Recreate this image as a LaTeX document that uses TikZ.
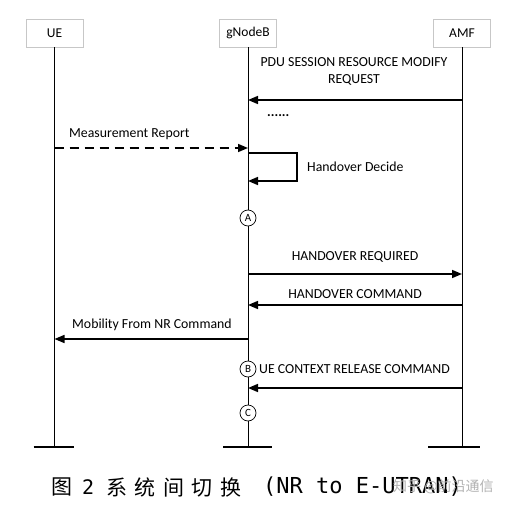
\documentclass[tikz,border=0pt]{standalone}
\usepackage{fontspec}
\setmainfont{Carlito}
\newfontfamily\cjkfont{Noto Sans CJK SC}
\newfontfamily\monofont{DejaVu Sans Mono}
\usetikzlibrary{arrows.meta}
\begin{document}
\begin{tikzpicture}[x=1pt,y=-1pt,
  entity/.style={draw=black!22,fill=white,minimum width=57pt,minimum height=28pt,inner sep=0pt,font=\fontsize{13.5}{15}\selectfont},
  lifeline/.style={line width=0.9pt},
  basebar/.style={line width=1.1pt},
  msg/.style={line width=1.6pt,-{Triangle[length=10pt,width=8pt]}},
  dmsg/.style={msg,dash pattern=on 9pt off 6pt},
  lbl/.style={font=\fontsize{13.8}{16}\selectfont,inner sep=0pt},
  marker/.style={circle,draw,fill=white,line width=0.7pt,minimum size=16pt,inner sep=0pt,font=\fontsize{11}{11}\selectfont}]
\useasboundingbox (0,0) rectangle (515,509);
\fill[white] (0,0) rectangle (515,509);
% entities
\node[entity] (ue)  at (54.5,33) {UE};
\node[entity] (gnb) at (248,33) {gNodeB};
\node[entity] (amf) at (462,33) {AMF};
% lifeline ends
\coordinate (ueE)  at (54.5,447);
\coordinate (gnbE) at (248,447);
\coordinate (amfE) at (462,447);
\draw[lifeline] (ue.south) -- (ueE);
\draw[lifeline] (gnb.south) -- (gnbE);
\draw[lifeline] (amf.south) -- (amfE);
\draw[basebar] ([xshift=-21pt]ueE) -- ([xshift=19pt]ueE);
\draw[basebar] ([xshift=-25pt]gnbE) -- ([xshift=24pt]gnbE);
\draw[basebar] ([xshift=-34pt]amfE) -- ([xshift=18pt]amfE);
% message anchor coordinates
\coordinate (a1s) at (462,100); \coordinate (a1e) at (248,100);
\coordinate (a2s) at (54.5,148); \coordinate (a2e) at (248,148);
\coordinate (l1) at (248,153); \coordinate (l2) at (297,153);
\coordinate (l3) at (297,181); \coordinate (l4) at (248,181);
\coordinate (a3s) at (248,274); \coordinate (a3e) at (462,274);
\coordinate (a4s) at (462,305); \coordinate (a4e) at (248,305);
\coordinate (a5s) at (248,339); \coordinate (a5e) at (54.5,339);
\coordinate (a6s) at (462,388); \coordinate (a6e) at (248,388);
% messages
\draw[msg] (a1s) -- (a1e);
\node[lbl,align=center] (t1) at (354,71) {PDU SESSION RESOURCE MODIFY\\[1pt]REQUEST};
\node[lbl,anchor=west] (dots) at (267,116) {\textbf{......}};
\draw[dmsg] (a2s) -- (a2e);
\node[lbl,anchor=west] (t2) at (69,134) {Measurement Report};
\draw[msg] (l1) -- (l2) -- (l3) -- (l4);
\node[lbl,anchor=west] (t3) at (307,167) {Handover Decide};
\draw[msg] (a3s) -- (a3e);
\node[lbl] (t4) at (355,257) {HANDOVER REQUIRED};
\draw[msg] (a4s) -- (a4e);
\node[lbl] (t5) at (355,294) {HANDOVER COMMAND};
\draw[msg] (a5s) -- (a5e);
\node[lbl,anchor=west] (t6) at (72,325) {Mobility From NR Command};
\draw[msg] (a6s) -- (a6e);
\node[lbl,anchor=west] (t7) at (259,369) {UE CONTEXT RELEASE COMMAND};
% circled markers
\node[marker] (mA) at (248,218) {A};
\node[marker] (mB) at (248,369) {B};
\node[marker] (mC) at (248,413) {C};
% caption
\node[anchor=west,inner sep=0pt,font=\cjkfont\fontsize{21}{22}\selectfont] (c1) at (51,487) {图};
\node[anchor=west,inner sep=0pt,font=\monofont\fontsize{20}{22}\selectfont] (c2) at (82,487) {2};
\node[anchor=west,inner sep=0pt,font=\cjkfont\fontsize{21}{22}\selectfont] (c3) at (106,487) {系\hspace{7.5pt}统\hspace{7.5pt}间\hspace{7.5pt}切\hspace{7.5pt}换};
\node[anchor=west,inner sep=0pt,font=\monofont\fontsize{22}{24}\selectfont] (c4) at (263,487) {(NR to E-UTRAN)};
\node[anchor=west,inner sep=0pt,text=black!30,font=\cjkfont\fontsize{14}{16}\selectfont] (wm) at (393,487) {知乎 @前沿通信};
\end{tikzpicture}
\end{document}
